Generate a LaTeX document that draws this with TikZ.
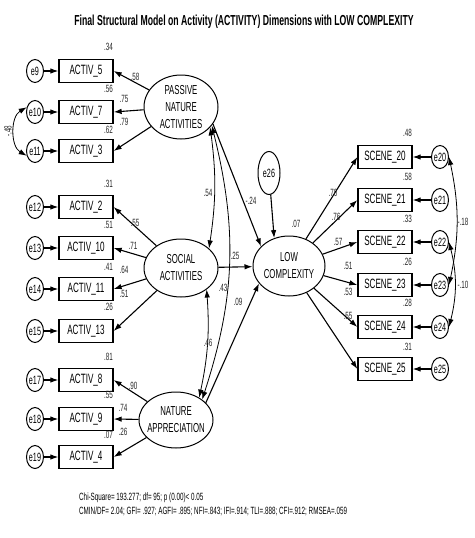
\documentclass[tikz,border=0pt]{standalone}
\usepackage{fontspec}
\setmainfont{Liberation Sans}[FakeStretch=0.6]
\usetikzlibrary{shapes.geometric,arrows.meta,positioning}
\tikzset{
  >={Latex[length=8pt,width=5.5pt]},
  observed/.style={
    rectangle,
    draw=black, line width=1.3pt,
    minimum width=54pt,
    minimum height=23pt,
    inner sep=0pt,
    font=\fontsize{13.5}{13.5}\selectfont},
  errnode/.style={
    ellipse,
    draw=black, line width=1pt,
    minimum width=17pt,
    minimum height=23pt,
    inner sep=0pt,
    font=\fontsize{12}{12}\selectfont},
  latent/.style={
    ellipse,
    draw=black, line width=1pt,
    minimum width=74pt,
    minimum height=60pt,
    inner xsep=-8pt, inner ysep=0pt,
    align=center,
    font=\fontsize{13}{17}\selectfont},
  coef/.style={font=\fontsize{10.5}{10.5}\selectfont, inner sep=0pt, text=black!85},
  effect/.style={draw, line width=1.1pt, ->},
  covar/.style={draw, line width=0.8pt, <->}
}

\begin{document}
\begin{tikzpicture}[x=1pt,y=-1pt]
  \useasboundingbox (0,0) rectangle (474,538);

  \node[font=\bfseries\fontsize{14.5}{14.5}\selectfont] (title) at (244,22)
    {Final Structural Model on Activity (ACTIVITY) Dimensions with LOW COMPLEXITY};

  % activity indicators
  \node[errnode] (e9) at (35,71) {e9};
  \node[observed] (a5) at (86,71) {ACTIV\_5};
  \node[errnode] (e10) at (35,112) {e10};
  \node[observed] (a7) at (86,112) {ACTIV\_7};
  \node[errnode] (e11) at (35,151) {e11};
  \node[observed] (a3) at (86,151) {ACTIV\_3};

  \node[errnode] (e12) at (35,207) {e12};
  \node[observed] (a2) at (86,207) {ACTIV\_2};
  \node[errnode] (e13) at (35,248) {e13};
  \node[observed] (a10) at (86,248) {ACTIV\_10};
  \node[errnode] (e14) at (35,289) {e14};
  \node[observed] (a11) at (86,289) {ACTIV\_11};
  \node[errnode] (e15) at (35,331) {e15};
  \node[observed] (a13) at (86,331) {ACTIV\_13};

  \node[errnode] (e17) at (35,380) {e17};
  \node[observed] (a8) at (86,380) {ACTIV\_8};
  \node[errnode] (e18) at (35,419) {e18};
  \node[observed] (a9) at (86,419) {ACTIV\_9};
  \node[errnode] (e19) at (35,457) {e19};
  \node[observed] (a4) at (86,457) {ACTIV\_4};

  % latent variables
  \node[latent, minimum height=64pt] (pas) at (181,107) {PASSIVE\\NATURE\\ACTIVITIES};
  \node[latent, minimum height=58pt] (soc) at (181,268) {SOCIAL\\ACTIVITIES};
  \node[latent, minimum height=56pt] (nat) at (176,420) {NATURE\\APPRECIATION};
  \node[latent, minimum width=72pt] (low) at (289,266) {LOW\\COMPLEXITY};
  \node[errnode, minimum width=22pt, minimum height=43pt] (e26) at (269,173) {e26};

  % scene indicators
  \node[observed] (s20) at (385,157) {SCENE\_20};
  \node[errnode] (e20) at (440,157) {e20};
  \node[observed] (s21) at (385,200) {SCENE\_21};
  \node[errnode] (e21) at (440,200) {e21};
  \node[observed] (s22) at (385,242) {SCENE\_22};
  \node[errnode] (e22) at (440,242) {e22};
  \node[observed] (s23) at (385,285) {SCENE\_23};
  \node[errnode] (e23) at (440,285) {e23};
  \node[observed] (s24) at (385,327) {SCENE\_24};
  \node[errnode] (e24) at (440,327) {e24};
  \node[observed] (s25) at (385,369) {SCENE\_25};
  \node[errnode] (e25) at (440,369) {e25};

  \foreach \e/\b in {e9/a5,e10/a7,e11/a3,e12/a2,e13/a10,e14/a11,e15/a13,e17/a8,e18/a9,e19/a4,
                     e20/s20,e21/s21,e22/s22,e23/s23,e24/s24,e25/s25}
    \draw[effect] (\e) -- (\b);

  \foreach \b in {a5,a7,a3} \draw[effect] (pas) -- (\b.east);
  \foreach \b in {a2,a10,a11,a13} \draw[effect] (soc) -- (\b.east);
  \foreach \b in {a8,a9,a4} \draw[effect] (nat) -- (\b.east);
  \foreach \b in {s20,s21,s22,s23,s24,s25} \draw[effect] (low) -- (\b.west);

  \draw[effect] (pas.-28) -- (low.145);
  \draw[effect] (soc) -- (low);
  \draw[effect] (nat.30) -- (low.-150);
  \draw[effect] (e26) -- (low.118);

  \draw[covar] (pas.-35) to[bend left=8] (soc.35);
  \draw[covar] (pas.-31) to[bend left=16] (nat.38);
  \draw[covar] (soc.-40) to[bend left=8] (nat.44);
  \draw[covar] (e10.150) to[bend right=60] (e11.210);
  \draw[covar] (e20.east) to[bend left=12] (e23.east);
  \draw[covar] (e22.east) to[bend left=14] (e24.east);

  % estimates
  \node[coef, anchor=east] (v5) at (113,47) {.34};
  \node[coef, anchor=east] (v7) at (113,89) {.56};
  \node[coef, anchor=east] (v3) at (113,130) {.62};
  \node[coef, anchor=east] (v2) at (113,184) {.31};
  \node[coef, anchor=east] (v10) at (113,225) {.51};
  \node[coef, anchor=east] (v11) at (113,267) {.41};
  \node[coef, anchor=east] (v13) at (113,307) {.26};
  \node[coef, anchor=east] (v8) at (113,357) {.81};
  \node[coef, anchor=east] (v9) at (113,395) {.55};
  \node[coef, anchor=east] (v4) at (113,435) {.07};

  \node[coef] (w5) at (135,77) {.58};
  \node[coef] (w7) at (124,99) {.75};
  \node[coef] (w3) at (124,122) {.79};
  \node[coef] (w2) at (135,223) {.55};
  \node[coef] (w10) at (133,246) {.71};
  \node[coef] (w11) at (124,270) {.64};
  \node[coef] (w13) at (124,294) {.51};
  \node[coef] (w8) at (133,386) {.90};
  \node[coef] (w9) at (123,408) {.74};
  \node[coef] (w4) at (123,432) {.26};

  \node[coef, anchor=east] (v20) at (412,133) {.48};
  \node[coef, anchor=east] (v21) at (412,177) {.58};
  \node[coef, anchor=east] (v22) at (412,219) {.33};
  \node[coef, anchor=east] (v23) at (412,262) {.26};
  \node[coef, anchor=east] (v24) at (412,303) {.28};
  \node[coef, anchor=east] (v25) at (412,347) {.31};

  \node[coef] (w20) at (333,193) {.70};
  \node[coef] (w21) at (336,217) {.76};
  \node[coef] (w22) at (338,242) {.57};
  \node[coef] (w23) at (348,266) {.51};
  \node[coef] (w24) at (348,292) {.53};
  \node[coef] (w25) at (348,316) {.55};

  \node[coef] (c54) at (208,193) {.54};
  \node[coef] (c43) at (223,288) {.43};
  \node[coef] (c46) at (208,343) {.46};
  \node[coef] (b24) at (251,201) {-.24};
  \node[coef] (b25) at (235,256) {.25};
  \node[coef] (b09) at (238,302) {.09};
  \node[coef] (r2) at (296,224) {.07};
  \node[coef, rotate=90] (c48) at (8,131) {-.48};
  \node[coef] (c18) at (463,222) {-.18};
  \node[coef] (c10) at (463,285) {-.10};

  \node[anchor=north west, align=left, inner sep=0pt,
        font=\fontsize{10.5}{14}\selectfont] (fit) at (79,493)
    {Chi-Square= 193.277; df= 95; p (0.00)< 0.05\\
     CMIN/DF= 2.04; GFI= .927; AGFI= .895; NFI=.843; IFI=.914; TLI=.888; CFI=.912; RMSEA=.059};
\end{tikzpicture}
\end{document}
